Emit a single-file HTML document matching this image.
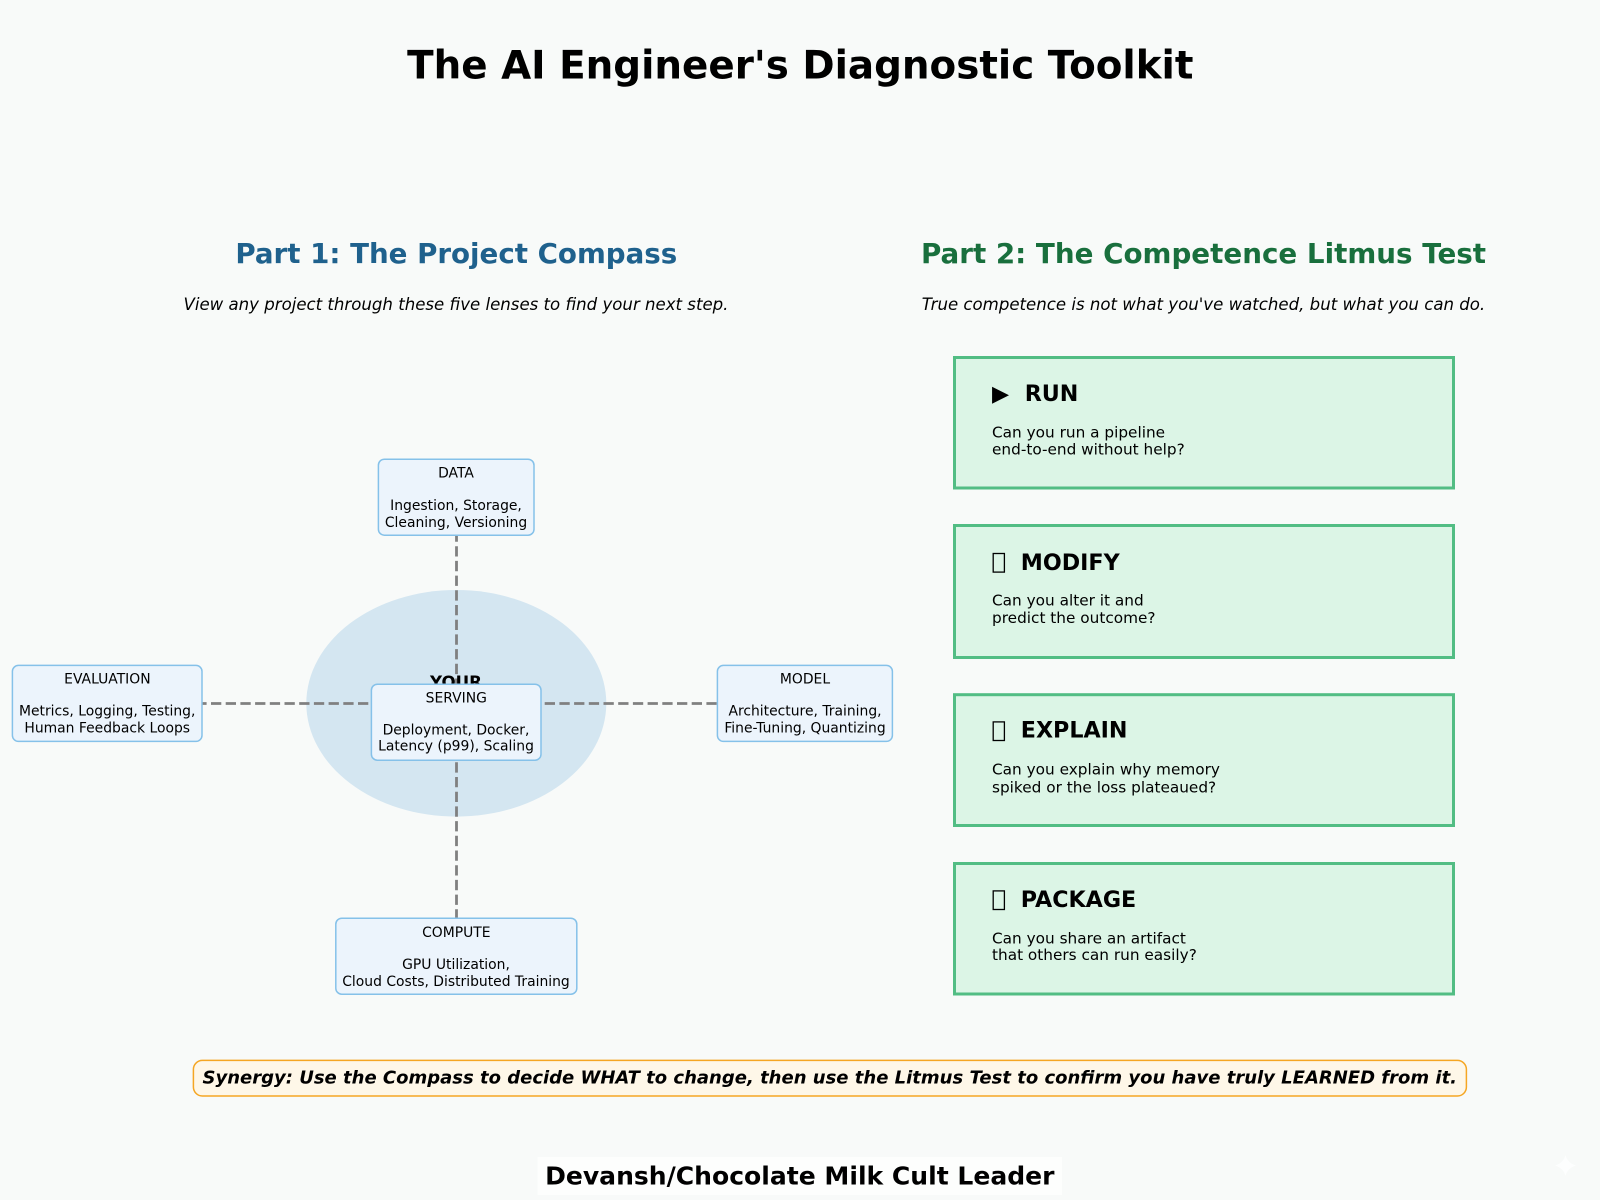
<!DOCTYPE html>
<html>
<head>
<meta charset="utf-8">
<style>
html,body{margin:0;padding:0;background:#f8faf9;}
svg{display:block;}
text{font-family:"DejaVu Sans",sans-serif;fill:#000;}
.lab{font-size:13.9px;text-anchor:middle;}
.h{font-size:22.2px;font-weight:bold;}
.b{font-size:15.3px;}
.card{fill:#dcf5e6;stroke:#52bd84;stroke-width:3;}
.node{fill:#ecf4fc;stroke:#85c1e9;stroke-width:1.5;}
.dash{stroke:#808080;stroke-width:2.8;stroke-dasharray:10.3 4.4;fill:none;}
.tofu{fill:none;stroke:#000;stroke-width:1.3;}
</style>
</head>
<body>
<svg width="1600" height="1200" viewBox="0 0 1600 1200" xmlns="http://www.w3.org/2000/svg">
<rect width="1600" height="1200" fill="#f8faf9"/>
<text x="800.3" y="78.5" font-size="38.85" font-weight="bold" text-anchor="middle">The AI Engineer's Diagnostic Toolkit</text>

<text x="456.3" y="263" font-size="27.7" font-weight="bold" text-anchor="middle" style="fill:#1f618d">Part 1: The Project Compass</text>
<text x="456" y="310" font-size="16.58" font-style="italic" text-anchor="middle">View any project through these five lenses to find your next step.</text>
<text x="1203.5" y="263" font-size="27.75" font-weight="bold" text-anchor="middle" style="fill:#196f3d">Part 2: The Competence Litmus Test</text>
<text x="1203.5" y="310" font-size="16.58" font-style="italic" text-anchor="middle">True competence is not what you've watched, but what you can do.</text>

<ellipse cx="456.3" cy="703.3" rx="150" ry="113.3" fill="#d4e6f1"/>
<line class="dash" x1="456.5" y1="703.5" x2="456.5" y2="535"/>
<line class="dash" x1="456.5" y1="703.5" x2="456.5" y2="918"/>
<line class="dash" x1="456.5" y1="703.5" x2="202" y2="703.5"/>
<line class="dash" x1="456.5" y1="703.5" x2="717" y2="703.5"/>
<text x="456" y="688" font-size="16.67" font-weight="bold" text-anchor="middle">YOUR</text>
<text x="456" y="708" font-size="16.67" font-weight="bold" text-anchor="middle">PROJECT</text>

<rect class="node" x="378.4" y="459.2" width="155.6" height="76" rx="6"/>
<text class="lab" x="456" y="477.5">DATA</text>
<text class="lab" x="456" y="509.8">Ingestion, Storage,</text>
<text class="lab" x="456" y="526.8">Cleaning, Versioning</text>

<rect class="node" x="12.4" y="665.4" width="189.6" height="76" rx="6"/>
<text class="lab" x="107.4" y="683.3">EVALUATION</text>
<text class="lab" x="107.2" y="715.3">Metrics, Logging, Testing,</text>
<text class="lab" x="107.2" y="732.3">Human Feedback Loops</text>

<rect class="node" x="371.4" y="684.2" width="169.6" height="76" rx="6"/>
<text class="lab" x="456.3" y="702.7">SERVING</text>
<text class="lab" x="456" y="734.3">Deployment, Docker,</text>
<text class="lab" x="456" y="750.7">Latency (p99), Scaling</text>

<rect class="node" x="717.4" y="665.4" width="175" height="76" rx="6"/>
<text class="lab" x="805" y="683.3">MODEL</text>
<text class="lab" x="805" y="715.3">Architecture, Training,</text>
<text class="lab" x="805" y="732.3">Fine-Tuning, Quantizing</text>

<rect class="node" x="335.8" y="918.2" width="241" height="76" rx="6"/>
<text class="lab" x="456.3" y="937">COMPUTE</text>
<text class="lab" x="456" y="969">GPU Utilization,</text>
<text class="lab" x="456" y="986">Cloud Costs, Distributed Training</text>

<rect class="card" x="954.5" y="357.5" width="499" height="130.5"/>
<text class="h" x="992" y="401">▶</text>
<text class="h" x="1024.7" y="401">RUN</text>
<text class="b" x="992" y="437.3">Can you run a pipeline</text>
<text class="b" x="992" y="454.5">end-to-end without help?</text>

<rect class="card" x="954.5" y="525.5" width="499" height="132"/>
<rect class="tofu" x="993.2" y="553.5" width="11.2" height="18.6"/>
<text class="h" x="1020.8" y="569.8">MODIFY</text>
<text class="b" x="992" y="605.3">Can you alter it and</text>
<text class="b" x="992" y="623">predict the outcome?</text>

<rect class="card" x="954.5" y="694.7" width="499" height="130.8"/>
<rect class="tofu" x="993.2" y="721.9" width="11.2" height="18.6"/>
<text class="h" x="1020.8" y="737.5">EXPLAIN</text>
<text class="b" x="992" y="774.3">Can you explain why memory</text>
<text class="b" x="992" y="792.3">spiked or the loss plateaued?</text>

<rect class="card" x="954.5" y="863.5" width="499" height="130.5"/>
<rect class="tofu" x="993.2" y="890.9" width="11.2" height="18.6"/>
<text class="h" x="1020.8" y="906.8">PACKAGE</text>
<text class="b" x="992" y="943.3">Can you share an artifact</text>
<text class="b" x="992" y="960">that others can run easily?</text>

<rect x="193.4" y="1060.4" width="1273" height="35.6" rx="9" fill="#fef7e8" stroke="#f5a623" stroke-width="1.5"/>
<text x="829.8" y="1083.4" font-size="18" font-weight="bold" font-style="italic" text-anchor="middle">Synergy: Use the Compass to decide WHAT to change, then use the Litmus Test to confirm you have truly LEARNED from it.</text>

<rect x="537.5" y="1157" width="524.5" height="38" fill="#ffffff" fill-opacity="0.7"/>
<text x="799.8" y="1184.4" font-size="25.05" font-weight="bold" text-anchor="middle">Devansh/Chocolate Milk Cult Leader</text>

<path d="M1565.5 1155 Q1567.5 1163 1576 1165.5 Q1567.5 1168 1565.5 1176 Q1563.5 1168 1555 1165.5 Q1563.5 1163 1565.5 1155Z" fill="#ffffff" fill-opacity="0.75"/>
</svg>
</body>
</html>
